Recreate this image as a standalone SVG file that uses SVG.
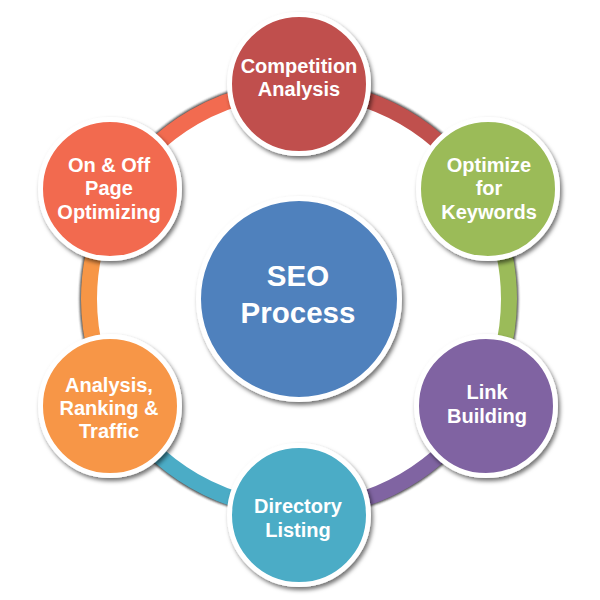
<svg xmlns="http://www.w3.org/2000/svg" width="600" height="600" viewBox="0 0 600 600">
<defs>
<filter id="sh" x="-20%" y="-20%" width="150%" height="150%">
<feDropShadow dx="2" dy="3" stdDeviation="2" flood-color="#000" flood-opacity="0.55"/>
</filter>
<filter id="rs" x="-10%" y="-10%" width="120%" height="120%">
<feGaussianBlur stdDeviation="1.2"/>
</filter>
<style>
.arc{fill:none;stroke-width:16}
.node{stroke:#fff;stroke-width:5;filter:url(#sh)}
.lbl{font-family:"Liberation Sans",Arial,sans-serif;font-weight:bold;font-size:20px;fill:#fff;text-anchor:middle}
.big{font-size:29.5px}
</style>
</defs>
<rect width="600" height="600" fill="#fff"/>
<g id="connectors">
<circle cx="299" cy="299" r="212.5" fill="none" stroke="#222" stroke-width="14" filter="url(#rs)" opacity="0.75"/>
<path class="arc" stroke="#c0504d" d="M299 89 A210 210 0 0 1 480.87 194"/>
<path class="arc" stroke="#9bbb59" d="M480.87 194 A210 210 0 0 1 480.87 404"/>
<path class="arc" stroke="#8064a2" d="M480.87 404 A210 210 0 0 1 299 509"/>
<path class="arc" stroke="#4bacc6" d="M299 509 A210 210 0 0 1 117.13 404"/>
<path class="arc" stroke="#f79646" d="M117.13 404 A210 210 0 0 1 117.13 194"/>
<path class="arc" stroke="#f26b50" d="M117.13 194 A210 210 0 0 1 299 89"/>
</g>
<g id="center">
<circle class="node" cx="299" cy="299" r="100.5" fill="#4f81bd"/>
<text class="lbl big" x="298" y="286">SEO</text>
<text class="lbl big" x="298" y="323">Process</text>
</g>
<g id="competition">
<circle class="node" cx="299" cy="84" r="69.5" fill="#c0504d"/>
<text class="lbl" x="299" y="73">Competition</text>
<text class="lbl" x="299" y="96">Analysis</text>
</g>
<g id="optimize">
<circle class="node" cx="488" cy="189" r="69.5" fill="#9bbb59"/>
<text class="lbl" x="489" y="172">Optimize</text>
<text class="lbl" x="489" y="195">for</text>
<text class="lbl" x="489" y="219">Keywords</text>
</g>
<g id="link">
<circle class="node" cx="486" cy="406" r="69.5" fill="#8064a2"/>
<text class="lbl" x="487" y="399">Link</text>
<text class="lbl" x="487" y="423">Building</text>
</g>
<g id="directory">
<circle class="node" cx="299" cy="515" r="69.5" fill="#4bacc6"/>
<text class="lbl" x="298" y="513">Directory</text>
<text class="lbl" x="298" y="537">Listing</text>
</g>
<g id="analysis">
<circle class="node" cx="110" cy="406" r="69.5" fill="#f79646"/>
<text class="lbl" x="109" y="392">Analysis,</text>
<text class="lbl" x="109" y="415">Ranking &amp;</text>
<text class="lbl" x="109" y="438">Traffic</text>
</g>
<g id="onoff">
<circle class="node" cx="110" cy="189" r="69.5" fill="#f26b50"/>
<text class="lbl" x="109" y="172">On &amp; Off</text>
<text class="lbl" x="109" y="195">Page</text>
<text class="lbl" x="109" y="219">Optimizing</text>
</g>
</svg>
